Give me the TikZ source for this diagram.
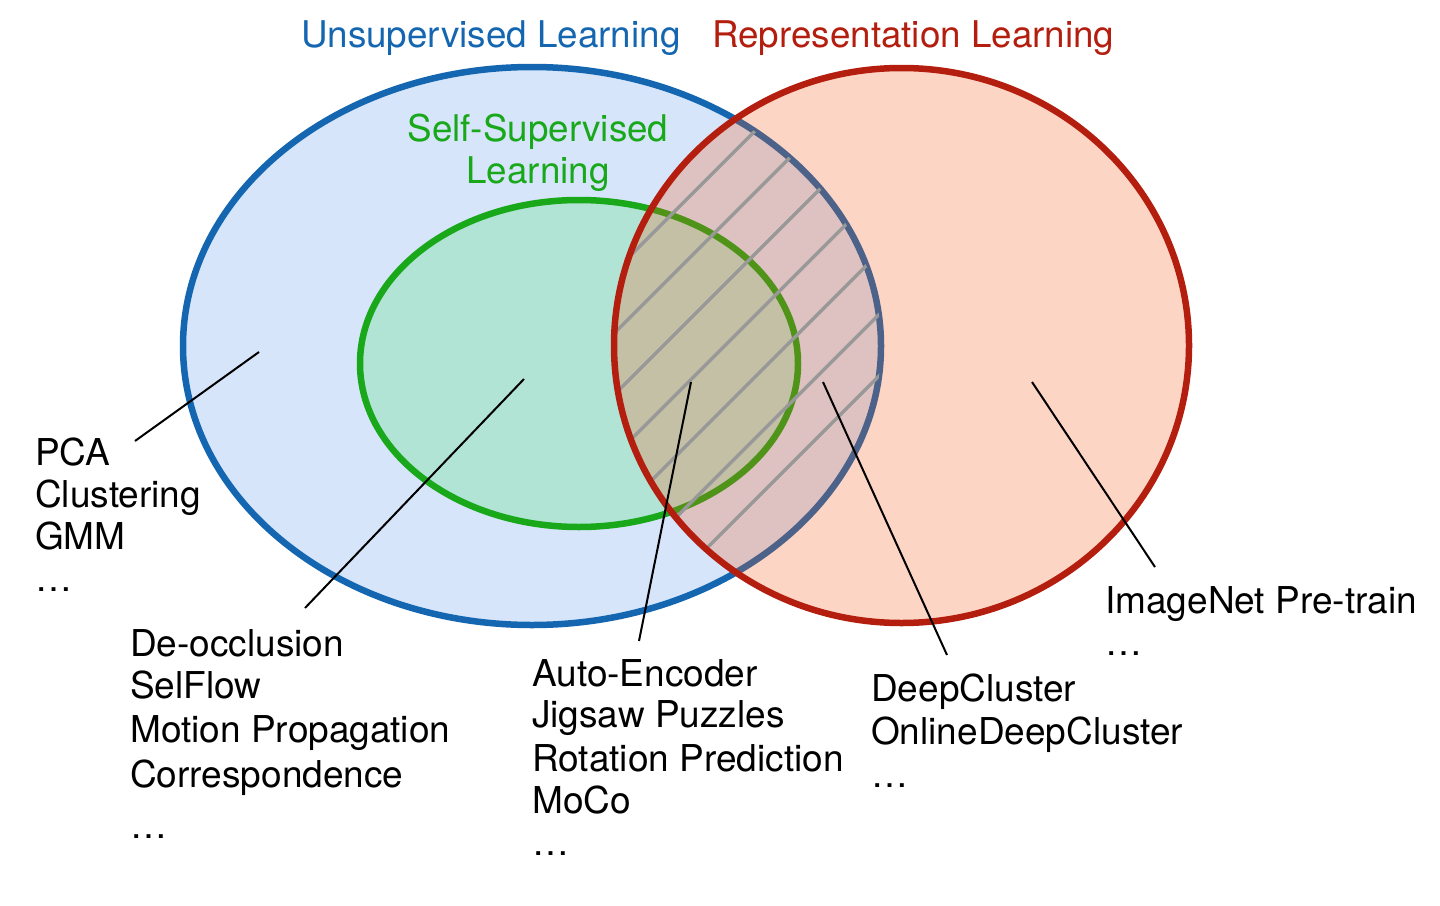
\documentclass[tikz,border=0pt]{standalone}
\usepackage{fontspec}
\setmainfont{TeX Gyre Heros}
\definecolor{bluefill}{RGB}{214,229,250}
\definecolor{bluestroke}{RGB}{20,102,176}
\definecolor{greenfill}{RGB}{178,228,214}
\definecolor{greenstroke}{RGB}{24,168,26}
\definecolor{redtint}{RGB}{247,87,23}
\definecolor{redstroke}{RGB}{180,30,14}
\definecolor{hatchgray}{RGB}{152,152,152}
\tikzset{
  lbl/.style={anchor=base west, inner sep=0pt, font=\fontsize{37}{42}\selectfont},
  ttl/.style={inner sep=0pt, font=\fontsize{36.8}{42}\selectfont},
  conn/.style={draw=black, line width=2pt},
}
\begin{document}
\begin{tikzpicture}[x=1pt,y=-1pt]
\useasboundingbox (0,0) rectangle (1440,905);
% blue fill
\fill[bluefill] (532,346) ellipse [x radius=349pt, y radius=279pt];
% green ellipse
\draw[fill=greenfill, draw=greenstroke, line width=6.5pt] (579,363.5) ellipse [x radius=219pt, y radius=163.5pt];
% blue stroke
\draw[bluestroke, line width=6.5pt] (532,346) ellipse [x radius=349pt, y radius=279pt];
% red translucent fill
\fill[redtint, fill opacity=0.25] (901.5,345.5) ellipse [x radius=287.5pt, y radius=277.5pt];
% hatching in the blue/red lens
\begin{scope}
  \clip (532,346) ellipse [x radius=349pt, y radius=279pt];
  \clip (901.5,345.5) ellipse [x radius=287.5pt, y radius=277.5pt];
  \foreach \c in {886,947.5,1009,1070.5,1132,1193.5,1255} {
    \draw[hatchgray, line width=3.3pt] (\c-60,60) -- (\c-700,700);
  }
\end{scope}
% red stroke
\draw[redstroke, line width=6.5pt] (901.5,345.5) ellipse [x radius=287.5pt, y radius=277.5pt];

% titles
\node[ttl, anchor=base west, text=bluestroke] (tunsup) at (301,47) {Unsupervised Learning};
\node[ttl, anchor=base west, text=redstroke] (trep) at (712,47) {Representation Learning};
\node[ttl, anchor=base, text=greenstroke] (tself1) at (538,141) {Self-Supervised};
\node[ttl, anchor=base, text=greenstroke] (tself2) at (538,183) {Learning};

% connector end points
\coordinate (pcaIn) at (259,352);
\coordinate (pcaOut) at (135,441);
\coordinate (deoIn) at (524,379);
\coordinate (deoOut) at (305,608);
\coordinate (autoIn) at (691,382);
\coordinate (autoOut) at (639,641);
\coordinate (dcIn) at (823,382);
\coordinate (dcOut) at (947,655);
\coordinate (imgIn) at (1032,382);
\coordinate (imgOut) at (1155,567);
\draw[conn] (pcaIn) -- (pcaOut);
\draw[conn] (deoIn) -- (deoOut);
\draw[conn] (autoIn) -- (autoOut);
\draw[conn] (dcIn) -- (dcOut);
\draw[conn] (imgIn) -- (imgOut);

% label groups
\node[lbl] (a1) at (35,465) {PCA};
\node[lbl] (a2) at (35,507) {Clustering};
\node[lbl] (a3) at (35,549) {GMM};
\node[lbl] (a4) at (35,591) {…};

\node[lbl] (b1) at (130,656) {De-occlusion};
\node[lbl] (b2) at (130,698) {SelFlow};
\node[lbl] (b3) at (130,742) {Motion Propagation};
\node[lbl] (b4) at (130,787) {Correspondence};
\node[lbl] (b5) at (130,838) {…};

\node[lbl] (c1) at (532,686) {Auto-Encoder};
\node[lbl] (c2) at (532,727) {Jigsaw Puzzles};
\node[lbl] (c3) at (532,771) {Rotation Prediction};
\node[lbl] (c4) at (532,813) {MoCo};
\node[lbl] (c5) at (532,855) {…};

\node[lbl] (d1) at (871,701) {DeepCluster};
\node[lbl] (d2) at (871,744) {OnlineDeepCluster};
\node[lbl] (d3) at (871,787) {…};

\node[lbl] (e1) at (1105,613) {ImageNet Pre-train};
\node[lbl] (e2) at (1105,655) {…};
\end{tikzpicture}
\end{document}
